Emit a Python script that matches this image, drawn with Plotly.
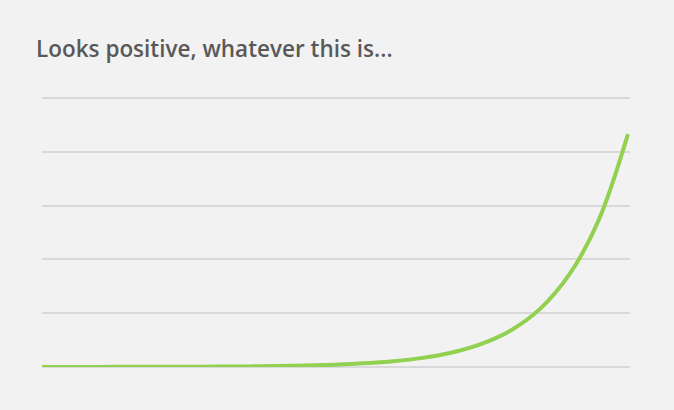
import plotly.graph_objects as go

# values
x_vals = list(range(21))
y_vals = [0.0, 0.001, 0.002, 0.003, 0.004, 0.005, 0.007, 0.011, 0.017, 0.027,
          0.043, 0.068, 0.107, 0.17, 0.27, 0.43, 0.68, 1.08, 1.72, 2.73, 4.33]

fig = go.Figure(data=go.Scatter(x=x_vals, y=y_vals,
                                mode='lines',
                                line=dict(color='#92d050', width=4, shape='spline'),
                                hoverinfo='skip'))

fig.update_layout(
    width=674, height=410,
    paper_bgcolor='#f2f2f2', plot_bgcolor='#f2f2f2',
    margin=dict(l=42, r=44, t=97, b=43),
    showlegend=False,
    title=dict(text='Looks positive, whatever this is...',
               x=36 / 674, xanchor='left', y=1 - 49 / 410, yanchor='middle',
               font=dict(family='Open Sans', size=22.5, color='#595959', weight=600)),
)
fig.update_xaxes(range=[0, 20.07], showgrid=False, zeroline=False,
                 showticklabels=False, ticks='')
fig.update_yaxes(range=[0, 5.02], dtick=1, showgrid=True, gridcolor='#d9d9d9',
                 gridwidth=2, zeroline=True, zerolinecolor='#d9d9d9', zerolinewidth=2,
                 showticklabels=False, ticks='')

# drop the page margin so the chart fills the window
fig.write_html("out.html", config={'displayModeBar': False},
               post_script="document.body.style.margin='0';")
